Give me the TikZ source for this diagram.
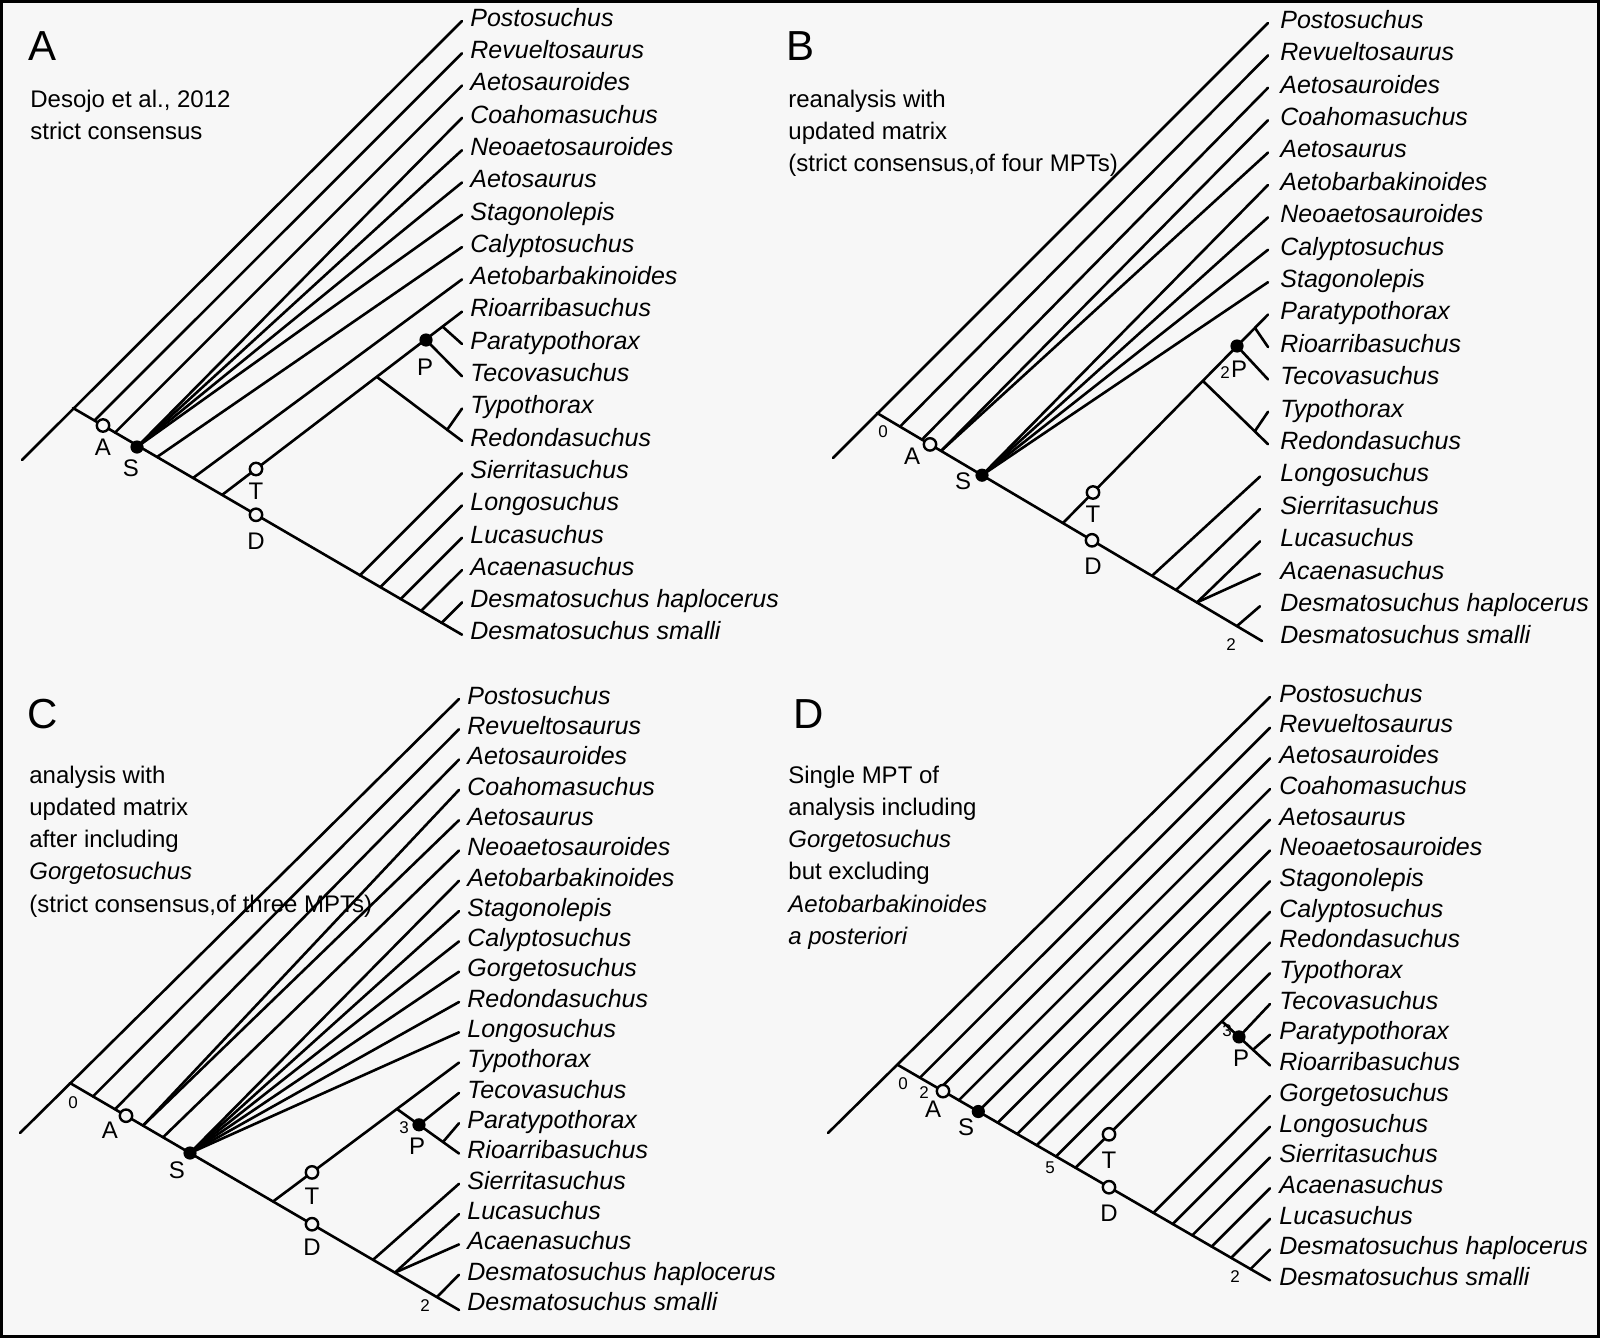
\documentclass[tikz,border=0pt]{standalone}
\usepackage{fontspec}
\setmainfont{Liberation Sans}
\begin{document}
\begin{tikzpicture}[x=0.5pt,y=-0.5pt,
  br/.style={line width=1.3pt,line cap=round},
  circ/.style={circle,draw,line width=1.2pt,fill=bgc,minimum size=6.2pt,inner sep=0pt},
  dot/.style={circle,fill=black,minimum size=6.6pt,inner sep=0pt},
  tax/.style={anchor=mid west,inner sep=0pt,font=\fontsize{12.5}{14}\selectfont\itshape},
  nl/.style={inner sep=0pt,font=\fontsize{12}{14}\selectfont},
  num/.style={inner sep=0pt,font=\fontsize{8.5}{10}\selectfont},
  plet/.style={inner sep=0pt,font=\fontsize{21}{24}\selectfont},
  desc/.style={anchor=mid west,inner sep=0pt,font=\fontsize{12}{14}\selectfont}]
\definecolor{bgc}{HTML}{F7F7F7}
\fill[bgc] (0,0) rectangle (1600,1338);
\useasboundingbox (0,0) rectangle (1600,1338);
\draw[line width=1.5pt] (1.5,1.5) rectangle (1598.5,1336.5);

% ================= Panel A =================
\node[plet] (pA) at (43,46) {A};
\node[desc] (dA1) at (30,102) {Desojo et al., 2012};
\node[desc] (dA2) at (30,134) {strict consensus};
\foreach \i/\n in {0/Postosuchus,1/Revueltosaurus,2/Aetosauroides,3/Coahomasuchus,4/Neoaetosauroides,5/Aetosaurus,6/Stagonolepis,7/Calyptosuchus,8/Aetobarbakinoides,9/Rioarribasuchus,10/Paratypothorax,11/Tecovasuchus,12/Typothorax,13/Redondasuchus,14/Sierritasuchus,15/Longosuchus,16/Lucasuchus,17/Acaenasuchus,18/Desmatosuchus haplocerus,19/Desmatosuchus smalli}{
  \coordinate (a\i) at (462,{21+32.3*\i});
  \node[tax] (la\i) at (470,{21+32.3*\i}) {\n};
}
\coordinate (aR) at (22,460);
\coordinate (aB) at (73,408);
\coordinate (aS) at (137,447);
\coordinate (aTb) at (222,495);
\coordinate (aBR) at (377,377);
\coordinate (aP) at (426,340);
\draw[br] (aR) -- (a0);
\draw[br] (aB) -- (a19);
\draw[br] (94.5,420.5) -- (a1);
\draw[br] (115,432.6) -- (a2);
\foreach \i in {3,4,5,6}{\draw[br] (aS) -- (a\i);}
\draw[br] (157,457) -- (a7);
\draw[br] (193,478) -- (a8);
\draw[br] (aTb) -- (a9);
\draw[br] (aP) -- (a11);
\draw[br] (443,327) -- (a10);
\draw[br] (aBR) -- (a13);
\draw[br] (447,430) -- (a12);
\draw[br] (359.8,575.4) -- (a14);
\draw[br] (380.2,587.3) -- (a15);
\draw[br] (400.6,599.2) -- (a16);
\draw[br] (421,611) -- (a17);
\draw[br] (441.4,623) -- (a18);
\node[circ] (aAc) at (103,425.5) {};
\node[dot] (aSd) at (aS) {};
\node[circ] (aTc) at (256,469) {};
\node[circ] (aDc) at (256,514.8) {};
\node[dot] (aPd) at (aP) {};
\node[nl] at (103,447) {A};
\node[nl] at (131,468) {S};
\node[nl] at (256,491) {T};
\node[nl] at (256,541) {D};
\node[nl] at (425,367) {P};

% ================= Panel B =================
\node[plet] (pB) at (800,46) {B};
\foreach \t [count=\k from 0] in {reanalysis with,updated matrix,(strict consensus,of four MPTs)}{
  \node[desc] at (788,{102+32.3*\k}) {\t};
}
\foreach \i/\n in {0/Postosuchus,1/Revueltosaurus,2/Aetosauroides,3/Coahomasuchus,4/Aetosaurus,5/Aetobarbakinoides,6/Neoaetosauroides,7/Calyptosuchus,8/Stagonolepis,9/Paratypothorax,10/Rioarribasuchus,11/Tecovasuchus,12/Typothorax,13/Redondasuchus}{
  \coordinate (b\i) at (1268,{23+32.4*\i});
  \node[tax] (lb\i) at (1280,{23+32.4*\i}) {\n};
}
\foreach \i/\n in {14/Longosuchus,15/Sierritasuchus,16/Lucasuchus,17/Acaenasuchus,18/Desmatosuchus haplocerus,19/Desmatosuchus smalli}{
  \coordinate (b\i) at (1260,{23+32.4*\i});
  \node[tax] (lb\i) at (1280,{23+32.4*\i}) {\n};
}
\coordinate (bR) at (833,458);
\coordinate (bB) at (877,413);
\coordinate (bC) at (941,451);
\coordinate (bS) at (982,475.2);
\coordinate (bTb) at (1063,523);
\coordinate (bBR) at (1203,381);
\coordinate (bP) at (1237,346);
\coordinate (bPo) at (1197,602.4);
\draw[br] (bR) -- (b0);
\draw[br] (bB) -- (1262,641);
\draw[br] (900,426.6) -- (b1);
\draw[br] (922,439.6) -- (b2);
\draw[br] (bC) -- (b3);
\draw[br] (bC) -- (b4);
\foreach \i in {5,6,7,8}{\draw[br] (bS) -- (b\i);}
\draw[br] (bTb) -- (b9);
\draw[br] (bP) -- (b11);
\draw[br] (1255,328) -- (b10);
\draw[br] (bBR) -- (b13);
\draw[br] (1255,431) -- (b12);
\draw[br] (1152,575.8) -- (b14);
\draw[br] (1176,590) -- (b15);
\draw[br] (bPo) -- (b16);
\draw[br] (bPo) -- (b17);
\draw[br] (1237,626) -- (b18);
\node[circ] (bAc) at (930,444.4) {};
\node[dot] (bSd) at (bS) {};
\node[circ] (bTc) at (1093,492.5) {};
\node[circ] (bDc) at (1092,540.3) {};
\node[dot] (bPd) at (bP) {};
\node[num] at (883,432) {0};
\node[nl] at (912,456) {A};
\node[nl] at (963,481) {S};
\node[nl] at (1093,514) {T};
\node[nl] at (1093,566) {D};
\node[nl] at (1239,369) {P};
\node[num] at (1225,373) {2};
\node[num] at (1231,645) {2};

% ================= Panel C =================
\node[plet] (pC) at (43,714) {C};
\foreach \t [count=\k from 0] in {analysis with,updated matrix,after including,\textit{Gorgetosuchus},(strict consensus,of three MPTs)}{
  \node[desc] at (29,{778+32.2*\k}) {\t};
}
\foreach \i/\n in {0/Postosuchus,1/Revueltosaurus,2/Aetosauroides,3/Coahomasuchus,4/Aetosaurus,5/Neoaetosauroides,6/Aetobarbakinoides,7/Stagonolepis,8/Calyptosuchus,9/Gorgetosuchus,10/Redondasuchus,11/Longosuchus,12/Typothorax,13/Tecovasuchus,14/Paratypothorax,15/Rioarribasuchus,16/Sierritasuchus,17/Lucasuchus,18/Acaenasuchus,19/Desmatosuchus haplocerus,20/Desmatosuchus smalli}{
  \coordinate (c\i) at (459,{699+30.3*\i});
  \node[tax] (lc\i) at (467,{699+30.3*\i}) {\n};
}
\coordinate (cR) at (20,1133);
\coordinate (cB) at (70,1083);
\coordinate (cC) at (143,1125.6);
\coordinate (cS) at (190,1153);
\coordinate (cTb) at (273,1201.5);
\coordinate (cBR) at (397,1109);
\coordinate (cP) at (419,1124.8);
\coordinate (cPo) at (395,1272.6);
\draw[br] (cR) -- (c0);
\draw[br] (cB) -- (459,1310);
\draw[br] (93,1096.4) -- (c1);
\draw[br] (115,1109.3) -- (c2);
\draw[br] (cC) -- (c3);
\draw[br] (cC) -- (c4);
\draw[br] (163,1137.3) -- (c5);
\foreach \i in {6,7,8,9,10,11}{\draw[br] (cS) -- (c\i);}
\draw[br] (cTb) -- (c12);
\draw[br] (cBR) -- (c15);
\draw[br] (cP) -- (c13);
\draw[br] (443,1142) -- (c14);
\draw[br] (373,1259.8) -- (c16);
\draw[br] (cPo) -- (c17);
\draw[br] (cPo) -- (c18);
\draw[br] (437,1297) -- (c19);
\node[circ] (cAc) at (126,1115.7) {};
\node[dot] (cSd) at (cS) {};
\node[circ] (cTc) at (312,1172.4) {};
\node[circ] (cDc) at (312,1224.2) {};
\node[dot] (cPd) at (cP) {};
\node[num] at (73,1103) {0};
\node[nl] at (110,1130) {A};
\node[nl] at (177,1170) {S};
\node[nl] at (312,1196) {T};
\node[nl] at (312,1247) {D};
\node[nl] at (417,1146) {P};
\node[num] at (404,1128) {3};
\node[num] at (425,1306) {2};

% ================= Panel D =================
\node[plet] (pD) at (809,714) {D};
\foreach \t [count=\k from 0] in {Single MPT of,analysis including,\textit{Gorgetosuchus},but excluding,\textit{Aetobarbakinoides},\textit{a posteriori}}{
  \node[desc] at (788,{778+32.2*\k}) {\t};
}
\foreach \i/\n in {0/Postosuchus,1/Revueltosaurus,2/Aetosauroides,3/Coahomasuchus,4/Aetosaurus,5/Neoaetosauroides,6/Stagonolepis,7/Calyptosuchus,8/Redondasuchus,9/Typothorax,10/Tecovasuchus,11/Paratypothorax,12/Rioarribasuchus,13/Gorgetosuchus,14/Longosuchus,15/Sierritasuchus,16/Acaenasuchus,17/Lucasuchus,18/Desmatosuchus haplocerus,19/Desmatosuchus smalli}{
  \coordinate (d\i) at (1270,{697+30.7*\i});
  \node[tax] (ld\i) at (1279,{697+30.7*\i}) {\n};
}
\coordinate (dR) at (828,1133);
\coordinate (dB) at (898,1065);
\coordinate (dTb) at (1075.5,1167.8);
\coordinate (dBR) at (1222,1021.3);
\coordinate (dP) at (1239,1036.9);
\draw[br] (dR) -- (d0);
\draw[br] (dB) -- (d19);
\draw[br] (919.9,1077.7) -- (d1);
\draw[br] (939.4,1089.0) -- (d2);
\draw[br] (958.8,1100.3) -- (d3);
\draw[br] (978.3,1111.5) -- (d4);
\draw[br] (997.7,1122.8) -- (d5);
\draw[br] (1017.2,1134.0) -- (d6);
\draw[br] (1036.6,1145.3) -- (d7);
\draw[br] (1056.0,1156.5) -- (d8);
\draw[br] (dTb) -- (d9);
\draw[br] (dBR) -- (d12);
\draw[br] (dP) -- (d10);
\draw[br] (1253,1049.7) -- (d11);
\draw[br] (1153.3,1212.9) -- (d13);
\draw[br] (1172.7,1224.1) -- (d14);
\draw[br] (1192.2,1235.4) -- (d15);
\draw[br] (1211.6,1246.6) -- (d16);
\draw[br] (1231,1257.9) -- (d17);
\draw[br] (1250.5,1269.1) -- (d18);
\node[circ] (dAc) at (943,1091.1) {};
\node[dot] (dSd) at (978.3,1111.5) {};
\node[circ] (dTc) at (1109,1134.3) {};
\node[circ] (dDc) at (1109,1187.2) {};
\node[dot] (dPd) at (dP) {};
\node[num] at (903,1084) {0};
\node[num] at (924,1093) {2};
\node[nl] at (933,1109) {A};
\node[nl] at (966,1127) {S};
\node[nl] at (1109,1160) {T};
\node[nl] at (1109,1213) {D};
\node[nl] at (1241,1058) {P};
\node[num] at (1227,1031) {3};
\node[num] at (1050,1168) {5};
\node[num] at (1235,1277) {2};
\end{tikzpicture}
\end{document}
